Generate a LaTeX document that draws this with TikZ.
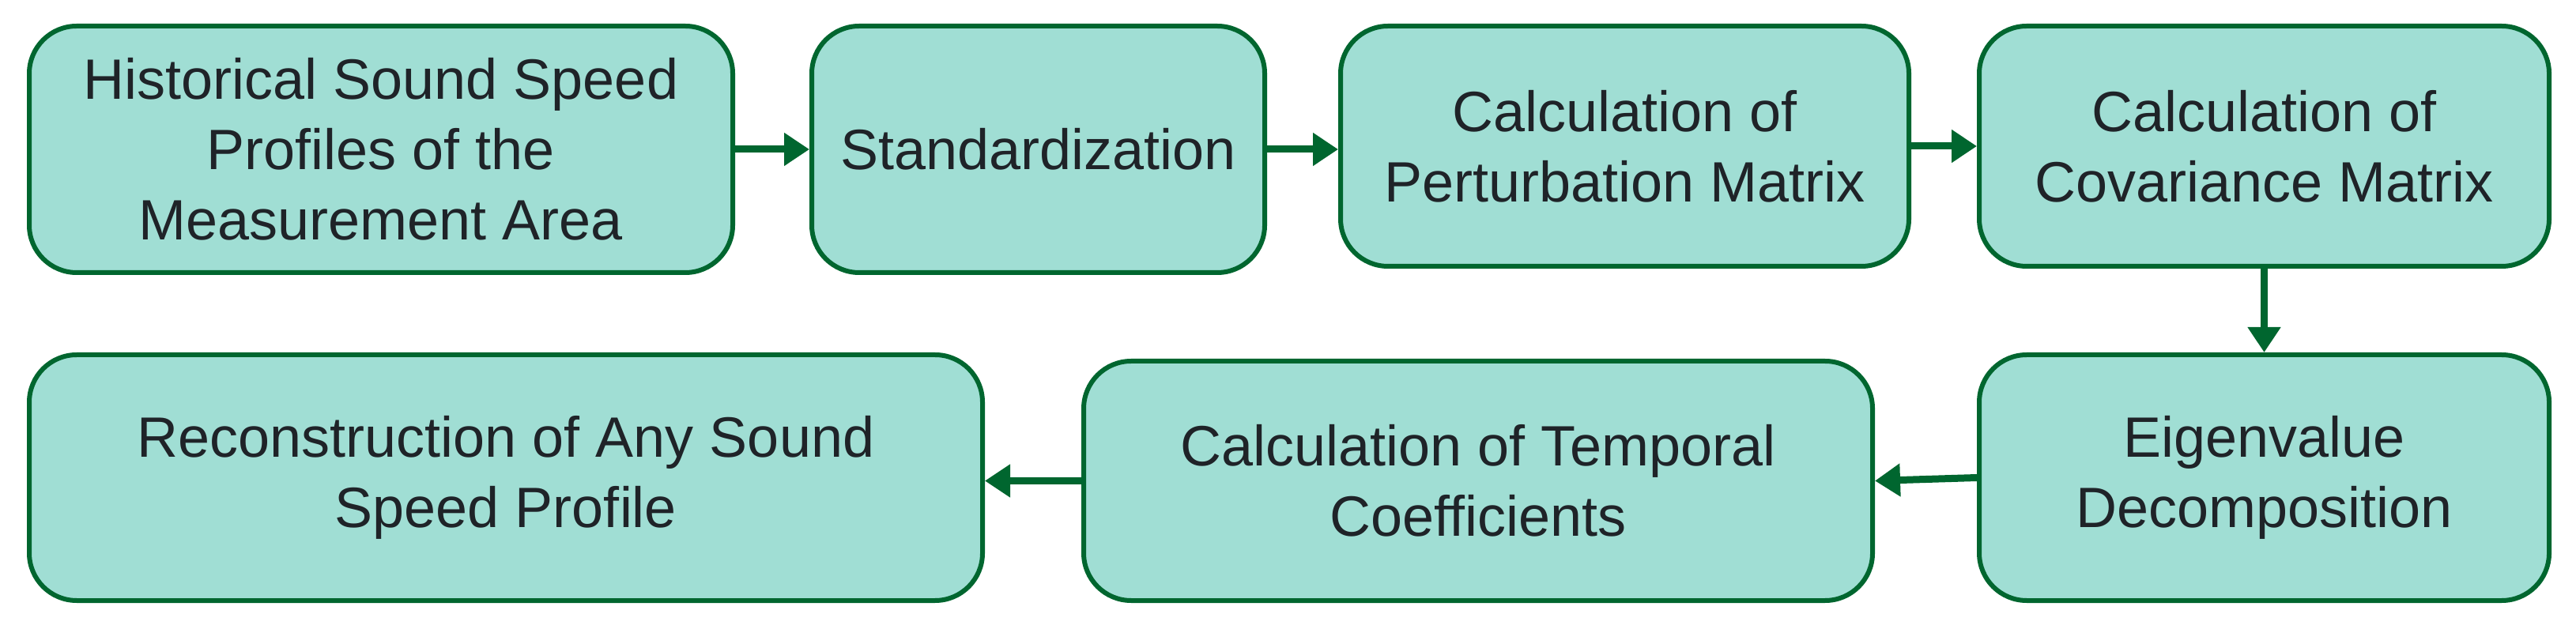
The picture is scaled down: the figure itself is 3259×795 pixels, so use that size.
\documentclass[tikz,border=0pt]{standalone}
\usepackage{fontspec}
\setmainfont{Liberation Sans}
\usetikzlibrary{arrows.meta}
\definecolor{boxfill}{HTML}{A0DED4}
\definecolor{boxline}{HTML}{00662F}
\definecolor{txt}{HTML}{1F2328}
\tikzset{
  procbox/.style={draw=boxline, line width=6pt, fill=boxfill, rounded corners=60pt, inner sep=0pt, align=center, text=txt,
    font=\fontsize{72}{89}\selectfont},
  flow/.style={draw=boxline, line width=9pt, -{Triangle[length=32pt,width=40pt]}}
}
\newcommand{\bx}[6]{\node[procbox, minimum width=#4-#2, minimum height=#5-#3] (#1) at ({(#2+#4)/2},{795-(#3+#5)/2}) {#6};}
\begin{document}
\begin{tikzpicture}[x=1pt,y=1pt]
\useasboundingbox (0,0) rectangle (3259,795);
\bx{a}{37}{33}{927}{345}{Historical Sound Speed\\Profiles of the\\Measurement Area}
\bx{b}{1027}{33}{1600}{345}{Standardization}
\bx{c}{1696}{33}{2415}{337}{Calculation of\\Perturbation Matrix}
\bx{d}{2504}{33}{3225}{337}{Calculation of\\Covariance Matrix}
\bx{e}{2504}{449}{3225}{760}{Eigenvalue\\Decomposition}
\bx{f}{1371}{457}{2369}{760}{Calculation of Temporal\\Coefficients}
\bx{g}{37}{449}{1243}{760}{Reconstruction of Any Sound\\Speed Profile}
\draw[flow] (a.east) -- (b.west);
\draw[flow] (b.east) -- (c.west |- b.east);
\draw[flow] (c.east) -- (d.west);
\draw[flow] (d.south) -- (e.north);
\draw[flow] (e.west) -- (f.east);
\draw[flow] (f.west) -- (g.east |- f.west);
\end{tikzpicture}
\end{document}
